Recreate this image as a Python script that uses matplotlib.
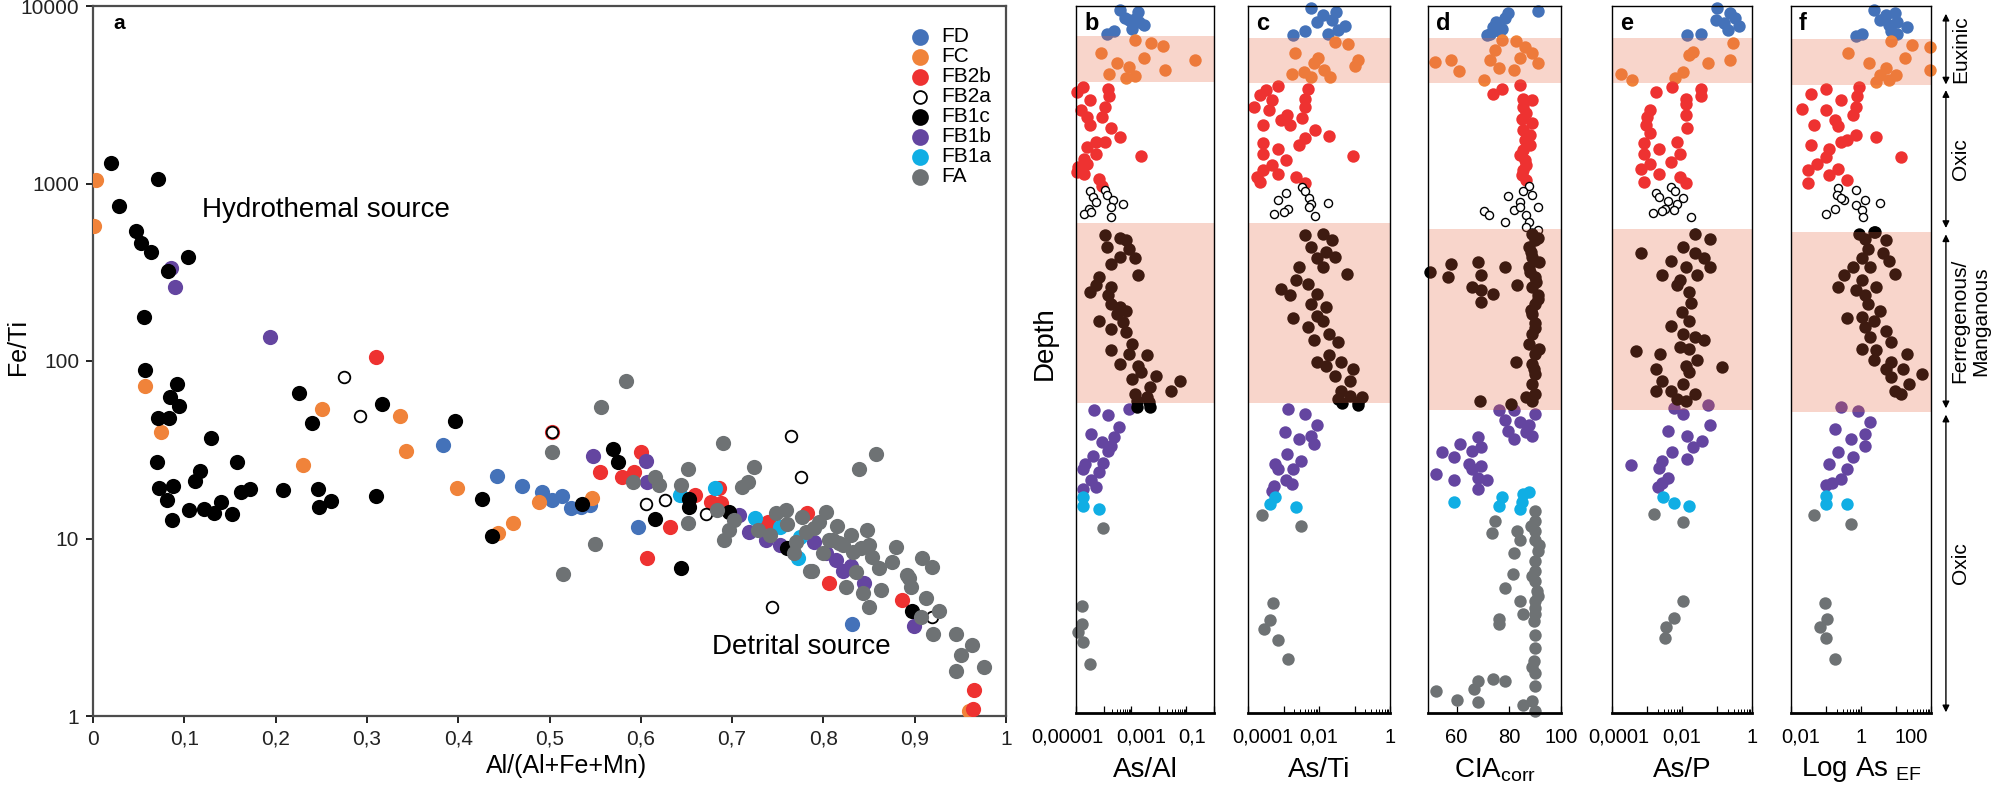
import matplotlib
matplotlib.use("Agg")
import matplotlib.pyplot as plt
import matplotlib.transforms as mtransforms
import numpy as np
from matplotlib.ticker import FixedLocator, NullFormatter, NullLocator

W, H = 1998, 786

plt.rcParams.update({
    "font.family": ["Liberation Sans", "DejaVu Sans"],
    "mathtext.fontset": "custom",
    "mathtext.rm": "Liberation Sans",
    "axes.linewidth": 1.0,
})

# ---------------------------------------------------------------- colours
COLORS = {
    "FD": "#4472b9", "FC": "#f0833a", "FB2b": "#ee3231", "FB2a": "white",
    "FB1c": "#000000", "FB1b": "#6445a0", "FB1a": "#10aee4", "FA": "#6e7274",
}
LEGEND_ORDER = ["FD", "FC", "FB2b", "FB2a", "FB1c", "FB1b", "FB1a", "FA"]
DRAW_ORDER = ["FD", "FC", "FB2b", "FB1b", "FB1a", "FB2a", "FB1c", "FA"]
BAND = "#e8653f"

# ---------------------------------------------------------------- panel a: Al/(Al+Fe+Mn) vs Fe/Ti
a_fd_x = [0.383, 0.442, 0.47, 0.492, 0.503, 0.514, 0.524, 0.535, 0.544, 0.597, 0.831]
a_fd_y = [33.6, 22.4, 19.8, 18.3, 16.5, 17.4, 14.8, 15.0, 15.4, 11.6, 3.3]
a_fc_x = [0.003, 0.001, 0.057, 0.074, 0.23, 0.251, 0.336, 0.343, 0.399, 0.444, 0.46, 0.489, 0.547, 0.96]
a_fc_y = [1050, 575, 72, 40, 26, 54, 49, 31, 19.3, 10.7, 12.2, 16.1, 16.9, 1.07]
a_fb2b_x = [0.31, 0.555, 0.60, 0.579, 0.593, 0.632, 0.659, 0.607, 0.686, 0.677, 0.688, 0.739,
            0.806, 0.782, 0.886, 0.965, 0.964, 0.503]
a_fb2b_y = [105, 23.7, 30.7, 22.3, 23.7, 11.6, 17.6, 7.8, 19.3, 16.1, 15.9, 12.4,
            5.6, 13.9, 4.5, 1.4, 1.1, 40]
a_fb2a_x = [0.275, 0.292, 0.503, 0.606, 0.626, 0.671, 0.744, 0.764, 0.775, 0.919]
a_fb2a_y = [81, 49, 40, 15.6, 16.5, 13.8, 4.1, 38, 22.3, 3.6]
a_fb1c_x = [0.02, 0.071, 0.029, 0.047, 0.053, 0.063, 0.104, 0.082, 0.056, 0.057, 0.092, 0.226,
            0.084, 0.094, 0.317, 0.071, 0.083, 0.24, 0.129, 0.07, 0.158, 0.117, 0.112, 0.072,
            0.088, 0.162, 0.172, 0.208, 0.246, 0.31, 0.081, 0.261, 0.247, 0.14, 0.105, 0.122,
            0.133, 0.152, 0.087, 0.397, 0.426, 0.437, 0.536, 0.57, 0.575, 0.616, 0.653, 0.653,
            0.644, 0.697, 0.76, 0.897]
a_fb1c_y = [1300, 1060, 750, 540, 460, 410, 385, 320, 177, 89, 74, 66,
            63, 56, 57, 48, 48, 45, 37, 27, 27, 24, 21, 19.2,
            19.8, 18.3, 19, 18.8, 19, 17.4, 16.5, 16.3, 15.1, 16.1, 14.5, 14.7,
            13.9, 13.7, 12.7, 46, 16.7, 10.3, 15.6, 32, 27, 12.9, 16.7, 15.1,
            6.8, 14.1, 8.8, 3.9]
a_fb1b_x = [0.085, 0.09, 0.194, 0.548, 0.606, 0.607, 0.708, 0.719, 0.737, 0.752, 0.803, 0.814,
            0.821, 0.845, 0.899, 0.79, 0.83]
a_fb1b_y = [333, 260, 136, 29, 27.4, 20.9, 13.5, 10.9, 9.8, 9.2, 8.3, 7.6,
            6.6, 5.6, 3.2, 9.5, 7.0]
a_fb1a_x = [0.643, 0.681, 0.725, 0.752, 0.772, 0.774]
a_fb1a_y = [17.6, 19.3, 13.0, 11.6, 7.8, 10.2]
a_fa_x = [0.503, 0.556, 0.584, 0.591, 0.616, 0.62, 0.652, 0.644, 0.652, 0.55, 0.515, 0.69,
          0.724, 0.717, 0.711, 0.683, 0.702, 0.691, 0.697, 0.728, 0.748, 0.759, 0.741, 0.768,
          0.785, 0.777, 0.803, 0.795, 0.781, 0.81, 0.821, 0.825, 0.858, 0.839, 0.848, 0.85,
          0.88, 0.908, 0.919, 0.806, 0.817, 0.787, 0.8, 0.832, 0.853, 0.875, 0.861, 0.836,
          0.892, 0.841, 0.894, 0.896, 0.863, 0.843, 0.85, 0.912, 0.927, 0.907, 0.92, 0.945,
          0.963, 0.951, 0.976, 0.945, 0.76, 0.79, 0.815, 0.83, 0.77]
a_fa_y = [30.6, 55, 77, 20.9, 22.3, 20, 24.6, 20, 12.2, 9.3, 6.3, 34.6,
          25.3, 20.9, 19.5, 14.5, 12.7, 9.8, 11.2, 11.2, 13.9, 14.5, 10.5, 8.3,
          6.6, 13.2, 14.1, 12.4, 10.9, 9.8, 9.2, 5.3, 29.9, 24.6, 11.2, 9.2,
          8.9, 7.8, 6.9, 9.8, 9.4, 6.6, 8.3, 8.4, 7.9, 7.4, 6.8, 6.5,
          6.2, 8.8, 6.0, 5.3, 5.1, 4.9, 4.1, 4.6, 3.9, 3.6, 2.9, 2.9,
          2.5, 2.2, 1.9, 1.8, 12.0, 11.5, 11.8, 10.5, 9.6]

PANEL_A = {
    "FD": (a_fd_x, a_fd_y), "FC": (a_fc_x, a_fc_y), "FB2b": (a_fb2b_x, a_fb2b_y),
    "FB2a": (a_fb2a_x, a_fb2a_y), "FB1c": (a_fb1c_x, a_fb1c_y), "FB1b": (a_fb1b_x, a_fb1b_y),
    "FB1a": (a_fb1a_x, a_fb1a_y), "FA": (a_fa_x, a_fa_y),
}

# ---------------------------------------------------------------- profiles (depth 0 = top, 100 = base)
# panel b: log10(As/Al)
AS_AL = {
    "FD": ([-3.41, -2.87, -2.76, -3.24, -2.54, -2.98, -3.63, -3.89, -3.09, -2.7],
           [0.5, 1.8, 0.9, 1.7, 2.7, 3.2, 3.6, 3.9, 2.0, 2.2]),
    "FC": ([-2.87, -2.28, -1.85, -4.11, -2.54, -0.70, -3.52, -3.09, -1.78, -2.87, -3.2, -3.8],
           [4.8, 5.2, 5.7, 6.7, 7.3, 7.6, 8.0, 8.6, 9.1, 9.9, 10.2, 9.6]),
    "FB2b": ([-4.76, -3.85, -4.98, -3.8, -4.5, -4.83, -3.96, -4.61, -4.07, -4.5, -3.74, -3.41,
              -4.28, -4.61, -3.96, -2.65, -4.28, -4.72, -4.93, -4.61, -4.98, -4.17, -4.72, -4.07],
             [11.5, 11.7, 12.1, 12.8, 13.3, 14.7, 14.3, 15.7, 15.7, 16.9, 17.3, 18.5,
              19.2, 19.9, 19.2, 21.2, 20.9, 21.6, 22.8, 22.3, 23.5, 24.4, 23.7, 25.4]),
    "FB2a": ([-4.5, -3.96, -4.39, -3.89, -4.28, -3.67, -3.3, -3.74, -4.54, -4.72, -4.46, -3.74],
             [26.1, 26.0, 27.0, 26.8, 27.7, 27.5, 28.0, 28.4, 28.7, 29.4, 29.1, 29.8]),
    "FB1c": ([-3.96, -3.41, -3.2, -3.89, -3.09, -3.41, -2.87, -3.74, -2.76, -4.17, -4.28, -3.74,
              -4.5, -3.85, -3.74, -3.41, -3.52, -3.2, -4.17, -3.3, -3.74, -3.2, -2.98, -3.74,
              -3.09, -2.43, -3.41, -2.76, -2.65, -2.11, -2.98, -1.24, -2.33, -1.57, -2.87, -2.43,
              -2.8, -2.37, -2.8, -2.33],
             [32.4, 32.8, 33.1, 34.1, 34.3, 35.5, 35.7, 36.5, 38.1, 38.3, 39.5, 39.8,
              40.5, 40.9, 42.1, 42.6, 43.5, 43.1, 44.5, 44.7, 45.7, 46.1, 47.8, 48.7,
              49.2, 49.4, 50.6, 50.9, 51.8, 52.3, 52.7, 53.0, 53.9, 54.4, 54.9, 55.3,
              55.8, 56.0, 56.7, 56.7]),
    "FB1b": ([-4.33, -3.85, -3.09, -3.46, -4.46, -3.63, -4.07, -3.74, -3.85, -4.39, -4.02, -4.67,
              -4.76, -4.17, -4.46, -4.28, -4.76],
             [57.2, 57.9, 57.0, 59.5, 60.5, 61.0, 61.7, 62.2, 62.9, 63.6, 64.7, 64.8,
              65.5, 65.9, 67.1, 68.1, 68.3]),
    "FB1a": ([-4.76, -4.76, -4.17], [69.5, 70.7, 71.1]),
    "FA": ([-4.02, -4.78, -4.78, -4.93, -4.76, -4.5], [73.8, 84.8, 87.4, 88.6, 90.0, 93.0]),
}

# panel c: log10(As/Ti)
AS_TI = {
    "FD": ([-2.23, -1.9, -1.53, -2.06, -1.64, -1.26, -1.47, -1.76, -2.4, -2.74],
           [0.3, 1.3, 0.9, 2.2, 2.0, 2.8, 3.4, 3.9, 3.6, 4.1]),
    "FC": ([-1.56, -1.17, -2.69, -2.03, -0.89, -2.15, -1.0, -1.86, -2.43, -2.77, -2.23, -1.69],
           [5.1, 5.4, 6.7, 7.4, 7.6, 8.1, 8.5, 9.0, 9.3, 9.6, 10.0, 10.0]),
    "FB2b": ([-3.16, -3.49, -3.66, -2.32, -2.4, -3.33, -3.83, -2.4, -3.41, -2.91, -3.07, -2.48,
              -3.58, -2.82, -2.1, -1.73, -2.4, -3.58, -2.57, -3.16, -3.58, -1.05, -2.94, -3.33,
              -3.58, -3.75, -3.16, -2.65, -3.66, -2.4],
             [11.3, 11.9, 12.6, 11.7, 13.1, 13.3, 14.3, 14.3, 14.7, 15.4, 16.1, 15.9,
              16.9, 16.9, 17.6, 18.4, 18.7, 19.4, 19.7, 20.2, 20.9, 21.2, 21.8, 22.5,
              23.2, 24.2, 23.7, 24.2, 24.9, 25.1]),
    "FB2a": ([-2.48, -2.94, -2.4, -2.27, -3.16, -1.76, -2.23, -2.87, -2.99, -3.28, -2.27, -2.1],
             [25.6, 26.4, 26.1, 27.2, 27.5, 27.9, 28.0, 28.7, 29.1, 29.4, 28.5, 29.7]),
    "FB1c": ([-2.4, -1.9, -1.64, -2.23, -1.81, -1.56, -2.06, -2.57, -1.9, -1.22, -2.65, -2.32,
              -3.07, -2.06, -2.82, -2.23, -1.81, -2.06, -2.74, -1.9, -2.32, -1.73, -2.15, -1.47,
              -1.73, -2.06, -1.81, -1.39, -1.05, -1.56, -1.14, -1.39, -1.14, -0.8, -0.89, -1.47,
              -1.36, -0.89],
             [32.4, 32.2, 33.1, 34.1, 34.8, 35.5, 35.7, 36.9, 36.9, 37.9, 38.8, 39.3,
              40.0, 40.7, 40.9, 42.1, 42.6, 43.8, 44.2, 44.5, 45.4, 46.4, 47.3, 47.5,
              49.4, 50.4, 50.9, 50.4, 51.3, 52.3, 53.0, 54.4, 55.1, 55.3, 56.0, 55.6,
              56.2, 56.5]),
    "FB1b": ([-2.87, -2.4, -2.06, -2.96, -2.23, -2.57, -2.15, -2.91, -2.52, -3.24, -3.16, -2.74,
              -2.94, -2.77, -3.28, -3.33],
             [57.0, 57.7, 59.2, 60.2, 60.8, 61.2, 61.9, 63.4, 64.3, 64.8, 65.5, 65.5,
              67.1, 67.6, 67.9, 68.6]),
    "FB1a": ([-3.24, -3.38, -2.65], [69.5, 70.4, 70.8]),
    "FA": ([-3.61, -2.52, -3.29, -3.38, -3.55, -3.16, -2.87],
           [72.0, 73.5, 84.5, 86.9, 88.1, 89.7, 92.4]),
}

# panel d: CIA corr
CIA = {
    "FD": ([79.8, 78.7, 75.2, 74.1, 77.5, 72.9, 76.4, 91.3, 71.8],
           [1.0, 1.7, 2.2, 2.9, 3.2, 3.9, 3.6, 0.7, 4.1]),
    "FC": ([77.5, 82.6, 74.8, 86.3, 89.0, 51.8, 58.0, 72.9, 84.4, 76.4, 61.0, 91.3, 70.6, 82.1],
           [4.8, 5.0, 6.2, 5.8, 6.7, 7.9, 7.6, 7.6, 7.3, 8.8, 9.2, 8.1, 10.4, 9.1]),
    "FB2b": ([84.4, 77.5, 74.1, 85.6, 89.0, 85.6, 86.7, 89.0, 85.6, 86.3, 85.6, 86.3, 85.6, 86.7,
              84.9, 88.1, 84.4, 86.7, 84.9, 88.1],
             [11.2, 11.7, 12.4, 13.1, 13.3, 14.3, 15.2, 16.6, 17.6, 19.0, 20.4, 21.8, 23.2, 24.6,
              16.0, 19.7, 21.1, 22.5, 23.9, 18.3]),
    "FB2a": ([87.9, 85.6, 79.8, 89.0, 84.4, 91.3, 82.1, 86.7, 70.6, 72.5, 78.7, 87.9, 91.3, 86.7, 84.4],
             [25.4, 26.1, 26.9, 26.8, 27.7, 28.4, 28.9, 29.6, 29.0, 29.5, 30.6, 30.6, 31.7, 31.3, 28.4]),
    "FB1c": ([89.0, 90.2, 87.9, 89.0, 87.9, 90.2, 89.0, 91.3, 90.2, 89.0, 90.2, 89.0, 87.9, 90.2,
              89.0, 90.2, 89.0, 90.2, 89.0, 86.7, 58.0, 56.8, 68.3, 69.5, 78.7, 66.0, 69.5, 74.1,
              83.3, 69.5, 82.6, 68.8, 81.0, 91.0, 88.5, 91.5, 88.0, 90.5, 91.0, 88.5, 90.0, 91.5,
              89.5, 49.9],
             [32.2, 33.1, 34.1, 35.5, 36.9, 38.3, 39.8, 40.9, 42.1, 43.5, 44.9, 46.4, 47.8, 49.2,
              50.6, 52.0, 53.4, 54.9, 55.8, 55.3, 36.5, 38.3, 36.2, 38.1, 36.9, 39.8, 40.2, 40.7,
              39.5, 41.9, 50.4, 55.8, 56.3, 32.8, 34.8, 36.2, 37.6, 39.0, 41.5, 43.0, 45.6, 48.5,
              51.3, 37.6]),
    "FB1b": ([76.4, 82.1, 90.2, 78.7, 84.4, 87.9, 79.8, 86.7, 82.1, 89.0, 68.3, 61.4, 54.5, 66.0,
              59.1, 69.5, 64.9, 69.5, 52.2, 59.1, 68.3, 71.8, 68.3, 66.0],
             [57.2, 57.2, 57.7, 58.6, 58.9, 59.3, 60.1, 60.3, 61.2, 60.8, 61.0, 61.9, 63.1, 62.9,
              63.8, 62.4, 64.8, 65.0, 66.2, 67.1, 66.7, 67.1, 68.3, 65.5]),
    "FB1a": ([59.1, 77.5, 76.4, 84.9, 87.9, 85.6, 84.4], [70.1, 69.5, 70.7, 70.2, 68.8, 69.0, 71.1]),
    "FA": ([90.2, 90.2, 90.2, 90.2, 91.3, 90.2, 90.2, 90.2, 90.9, 90.2, 90.2,
            74.8, 73.4, 83.3, 84.4, 82.1, 81.7, 78.7, 84.4, 76.4, 85.6,
            90.2, 89.7, 90.2, 90.2, 89.7, 90.2, 90.2, 89.0, 90.2,
            76.4, 74.1, 78.7, 68.3, 66.5, 52.2, 60.3, 68.3, 85.6,
            88.5, 91.5, 89.0, 91.0, 88.8],
           [71.4, 72.8, 74.2, 75.6, 77.1, 78.5, 79.9, 81.3, 82.7, 84.1, 86.0,
            72.8, 74.5, 74.2, 75.6, 77.3, 80.4, 82.3, 84.1, 86.7, 86.0,
            85.1, 87.0, 88.9, 90.8, 92.6, 94.3, 96.2, 98.3, 99.7,
            87.4, 95.2, 95.5, 95.5, 96.6, 96.9, 98.2, 98.5, 98.8,
            73.5, 76.3, 80.6, 83.4, 93.5]),
}

# panel e: log10(As/P)
AS_P = {
    "FD": ([-0.99, -0.62, -0.48, -1.04, -0.79, -0.36, -0.70, -1.47, -1.85],
           [0.3, 1.0, 1.7, 2.0, 2.4, 2.8, 3.4, 3.9, 4.1]),
    "FC": ([-0.53, -1.68, -1.81, -0.62, -1.26, -1.98, -3.73, -3.44, -2.19],
           [5.3, 6.5, 6.9, 7.6, 8.1, 9.3, 9.6, 10.4, 10.2]),
    "FB2b": ([-2.75, -2.29, -1.47, -1.47, -1.9, -1.9, -1.9, -2.92, -3.01, -3.04, -1.85, -2.92,
              -3.09, -2.15, -2.67, -3.09, -2.07, -2.32, -2.92, -3.18, -2.67, -2.07, -3.09, -1.9],
             [12.1, 11.5, 11.7, 12.8, 13.1, 13.9, 15.4, 14.7, 15.7, 16.9, 17.3, 18.0,
              19.4, 19.2, 20.2, 20.9, 20.9, 22.0, 22.3, 23.0, 23.7, 24.2, 24.9, 25.1]),
    "FB2a": ([-2.32, -2.75, -2.19, -2.67, -1.98, -2.41, -2.15, -2.5, -2.84, -2.24, -1.73, -2.58],
             [25.6, 26.4, 26.2, 27.0, 27.2, 27.6, 28.0, 28.7, 29.3, 28.8, 29.8, 29.0]),
    "FB1c": ([-1.64, -1.21, -1.98, -1.64, -1.38, -3.18, -2.32, -1.9, -1.21, -2.58, -2.07, -1.56,
              -2.15, -1.81, -2.32, -1.81, -1.98, -1.64, -1.38, -2.07, -1.81, -3.32, -2.63, -1.56,
              -1.9, -0.87, -2.75, -1.81, -2.58, -1.98, -2.75, -1.64, -1.9, -2.15, -2.32, -1.75, -2.0],
             [32.2, 32.9, 34.1, 35.0, 35.7, 35.0, 36.0, 36.9, 36.9, 38.1, 38.8, 38.1,
              39.5, 40.5, 45.2, 44.5, 46.4, 46.8, 47.3, 48.3, 48.5, 48.8, 49.2, 50.1,
              50.9, 51.0, 51.3, 51.8, 53.0, 53.4, 54.4, 54.9, 55.8, 55.6, 54.4, 42.0, 43.3]),
    "FB1b": ([-2.24, -1.26, -1.98, -1.21, -2.41, -1.85, -1.44, -1.68, -2.29, -1.85, -2.58, -3.47,
              -2.67, -2.41, -2.58, -2.7],
             [56.8, 56.5, 57.7, 59.2, 60.1, 60.8, 61.5, 62.4, 63.1, 64.1, 64.3, 64.9,
              65.3, 66.7, 67.4, 68.1]),
    "FB1a": ([-2.53, -2.24, -1.81], [69.4, 70.3, 70.7]),
    "FA": ([-2.8, -1.98, -1.98, -2.24, -2.46, -2.5], [71.9, 73.0, 84.1, 86.5, 87.8, 89.4]),
}

# panel f: log10(As EF)
AS_EF = {
    "FD": ([0.36, 0.70, 0.96, 0.53, 1.04, 0.79, 1.30, 0.87, 0.02, -0.15, 1.04],
           [0.5, 1.3, 1.0, 2.0, 2.2, 2.7, 2.9, 3.6, 3.9, 4.3, 3.9]),
    "FC": ([0.87, 1.47, 1.98, -0.36, 1.25, 0.22, 1.98, 0.70, 1.01, 0.53, 0.79, 0.44],
           [5.0, 5.5, 5.8, 6.7, 7.3, 8.1, 9.1, 8.8, 9.8, 9.8, 10.5, 10.7]),
    "FB2b": ([-1.01, -1.44, -0.07, -0.12, -0.58, -0.15, -1.69, -1.01, -0.75, -0.24, -1.35, -0.67,
              -0.15, 0.44, -0.58, -1.44, -0.92, -0.41, 1.13, -1.01, -1.26, -1.52, -0.67, -0.92,
              -1.52, -0.41],
             [11.7, 12.5, 11.5, 12.8, 13.3, 14.3, 14.5, 14.7, 16.1, 15.4, 16.9, 17.0,
              18.3, 18.5, 19.2, 19.7, 20.2, 19.0, 21.4, 21.4, 22.3, 23.2, 23.0, 23.9,
              25.1, 24.6]),
    "FB2a": ([-0.67, -0.15, -0.70, -0.50, 0.10, -0.15, 0.53, -0.75, -1.01, 0.02, 0.05, -0.58],
             [25.7, 26.0, 26.8, 27.5, 27.5, 28.2, 27.9, 28.7, 29.4, 28.8, 29.8, 27.2]),
    "FB1c": ([-0.07, 0.36, 0.10, 0.70, 0.19, 0.62, 0.02, 0.79, -0.24, 0.96, 0.27, -0.50,
              0.02, -0.67, -0.15, 0.44, 0.10, 0.19, 0.53, 0.02, 0.36, -0.41, 0.10, 0.70,
              0.27, 0.87, 0.02, 0.44, 1.30, 0.36, 0.87, 0.70, 1.21, 1.73, 0.87, 1.38,
              0.96, 1.13, 0.39],
             [32.2, 32.0, 32.9, 33.1, 34.3, 35.0, 35.7, 36.0, 36.9, 37.9, 36.9, 38.1,
              38.8, 39.8, 40.2, 39.8, 40.9, 42.1, 43.1, 44.0, 44.5, 44.2, 45.4, 45.9,
              46.8, 47.5, 48.5, 48.7, 49.2, 50.1, 50.4, 51.3, 51.3, 52.0, 52.5, 53.4,
              54.4, 54.9, 32.0]),
    "FB1b": ([-0.58, -0.10, 0.27, -0.75, 0.10, -0.29, 0.10, -0.67, -0.24, -0.92, -0.41, -0.58,
              -1.01, -0.84],
             [56.7, 57.3, 58.9, 59.8, 60.5, 61.2, 62.2, 63.1, 63.8, 64.8, 65.5, 66.9,
              67.8, 67.4]),
    "FB1a": ([-1.01, -1.01, -0.41], [69.3, 70.4, 70.5]),
    "FA": ([-1.35, -0.29, -1.04, -0.97, -1.18, -1.01, -0.75],
           [72.0, 73.2, 84.4, 86.7, 87.9, 89.4, 92.3]),
}

# shaded intervals (depth units) per panel: euxinic band, ferruginous band
bands_b = [(4.2, 10.8), (30.7, 56.2)]
bands_c = [(4.5, 10.9), (30.7, 56.2)]
bands_d = [(4.5, 10.9), (31.6, 57.1)]
bands_e = [(4.5, 10.9), (31.6, 57.1)]
bands_f = [(4.7, 11.2), (31.9, 57.4)]

# redox zones on the right
zone_names = ["Euxinic", "Oxic", "Ferregenous/\nManganous", "Oxic"]
zone_top = [1.1, 11.9, 32.3, 57.8]
zone_base = [11.1, 31.4, 56.9, 99.9]


def px_rect(left, top, right, bottom):
    return [left / W, 1 - bottom / H, (right - left) / W, (bottom - top) / H]


fig = plt.figure(figsize=(W / 100, H / 100), dpi=100)

# ---------------------------------------------------------------- panel a
ax = fig.add_axes(px_rect(93, 6, 1006, 716))
handles = {}
for g in DRAW_ORDER:
    x, y = PANEL_A[g]
    if g == "FB2a":
        h = ax.scatter(x, y, s=70, facecolor="white", edgecolor="black", linewidth=1.3,
                       zorder=3, label=g)
    else:
        h = ax.scatter(x, y, s=120, color=COLORS[g], linewidth=0, zorder=3, label=g)
    handles[g] = h
ax.set_yscale("log")
ax.set_xlim(0, 1)
ax.set_ylim(1, 10000)
ax.set_xticks(np.arange(0, 1.01, 0.1))
ax.set_xticklabels(["0", "0,1", "0,2", "0,3", "0,4", "0,5", "0,6", "0,7", "0,8", "0,9", "1"])
ax.set_yticks([1, 10, 100, 1000, 10000])
ax.set_yticklabels(["1", "10", "100", "1000", "10000"])
ax.yaxis.set_minor_locator(NullLocator())
ax.tick_params(direction="out", length=5, width=1.4, labelsize=15, colors="#222222", pad=5)
for sp in ax.spines.values():
    sp.set_color("#4d4d4d")
    sp.set_linewidth(1.6)
ax.text(0.022, 0.975, "a", transform=ax.transAxes, fontsize=15, fontweight="bold", va="center")
ax.text(0.119, 0.713, "Hydrothemal source", transform=ax.transAxes, fontsize=20, va="center")
ax.text(0.678, 0.097, "Detrital source", transform=ax.transAxes, fontsize=20, va="center")
ax.legend([handles[g] for g in LEGEND_ORDER], LEGEND_ORDER, loc="upper left",
          bbox_to_anchor=(910 / W, 1 - 27 / H), bbox_transform=fig.transFigure,
          frameon=False, fontsize=15, borderpad=0, handlelength=1.0, handletextpad=0.5,
          labelspacing=0.05, borderaxespad=0, scatterpoints=1, markerscale=1.1)
fig.text(18 / W, 1 - 347 / H, "Fe/Ti", rotation=90, fontsize=18, ha="center", va="center")
fig.text(567 / W, 1 - 766 / H, "Al/(Al+Fe+Mn)", fontsize=18, ha="center", va="center")

# ---------------------------------------------------------------- panels b-f
# (letter, data, bands, x-extent in px, scale, limits, labelled ticks, label shift px,
#  decades with minor ticks, axis title)
profiles = [
    ("b", AS_AL, bands_b, (1076, 1214), "log", (1e-5, 1),
     [(1e-5, "0,00001"), (1e-3, "0,001"), (1e-1, "0,1")], [-9, 10, 6], [1e-4, 1e-2], "As/Al"),
    ("c", AS_TI, bands_c, (1248, 1390), "log", (1e-4, 1),
     [(1e-4, "0,0001"), (1e-2, "0,01"), (1, "1")], [15, 0, 0], [1e-3, 1e-1], "As/Ti"),
    ("d", CIA, bands_d, (1428, 1561), "linear", (49, 100),
     [(60, "60"), (80, "80"), (100, "100")], [0, 0, 0], [], r"CIA$_{\rm corr}$"),
    ("e", AS_P, bands_e, (1612, 1752), "log", (1e-4, 1),
     [(1e-4, "0,0001"), (1e-2, "0,01"), (1, "1")], [7, 0, 0], [1e-3, 1e-1], "As/P"),
    ("f", AS_EF, bands_f, (1791, 1931), "log", (1e-2, 100),
     [(1e-2, "0,01"), (1, "1"), (100, "100")], [10, 0, -20], [1e-1, 10], r"Log As $_{\rm EF}$"),
]

for (letter, data, bands, (left, right), scale, lims, labels, shifts,
     minor_decades, xlab) in profiles:
    axp = fig.add_axes(px_rect(left, 6, right, 713))
    for g in DRAW_ORDER:
        vals, depth = data[g]
        vals = np.asarray(vals, dtype=float)
        if scale == "log":
            vals = 10 ** vals
        if g == "FB2a":
            axp.scatter(vals, depth, s=34, facecolor="white", edgecolor="black",
                        linewidth=1.0, zorder=3, clip_on=False)
        else:
            axp.scatter(vals, depth, s=80, color=COLORS[g], linewidth=0, zorder=3,
                        clip_on=False)
    for d0, d1 in bands:
        axp.axhspan(d0, d1, color=BAND, alpha=0.27, linewidth=0, zorder=5)
    axp.set_xscale(scale)
    axp.set_xlim(*lims)
    axp.set_ylim(100, 0)
    axp.set_yticks([])
    if scale == "log":
        lo, hi = np.log10(lims)
        axp.set_xticks([10.0 ** k for k in range(int(round(lo)), int(round(hi)) + 1)])
        minors = [m * s for m in minor_decades for s in range(2, 10)]
        axp.xaxis.set_minor_locator(FixedLocator(minors))
        axp.xaxis.set_minor_formatter(NullFormatter())
    else:
        axp.set_xticks([v for v, _ in labels])
    axp.set_xticklabels([])
    axp.tick_params(axis="x", which="major", direction="in", length=5, width=0.9)
    axp.tick_params(axis="x", which="minor", direction="in", length=3, width=0.7)
    # tick labels, nudged sideways as in the original layout
    base = mtransforms.blended_transform_factory(axp.transData, axp.transAxes)
    for (val, txt), dx in zip(labels, shifts):
        tr = base + mtransforms.ScaledTranslation(dx / 100, 0, fig.dpi_scale_trans)
        axp.text(val, -0.034, txt, transform=tr, fontsize=14.5, ha="center", va="center",
                 clip_on=False)
    for name, sp in axp.spines.items():
        sp.set_color("black")
        sp.set_linewidth(2.0 if name == "bottom" else 1.0)
        sp.set_zorder(6)
    axp.text(8 / (right - left), 0.975, letter, transform=axp.transAxes, fontsize=17,
             fontweight="bold", va="center", zorder=7)
    fig.text((left + right) / 2 / W, 1 - 770 / H, xlab, fontsize=20, ha="center", va="center")

fig.text(1045 / W, 1 - 343 / H, "Depth", rotation=90, fontsize=20, ha="center", va="center")

# ---------------------------------------------------------------- redox zones
axz = fig.add_axes(px_rect(1936, 6, 1998, 713))
axz.set_xlim(0, 1)
axz.set_ylim(100, 0)
axz.axis("off")
for name, d0, d1 in zip(zone_names, zone_top, zone_base):
    axz.annotate("", xy=(0.16, d1), xytext=(0.16, d0),
                 arrowprops=dict(arrowstyle="<|-|>", color="black", lw=1.0,
                                 mutation_scale=10, shrinkA=0, shrinkB=0))
    xt = 0.55 if "\n" in name else 0.4
    axz.text(xt, (d0 + d1) / 2, name, rotation=90, fontsize=15, ha="center", va="center",
             linespacing=1.1)

fig.savefig("out.png", dpi=100)
